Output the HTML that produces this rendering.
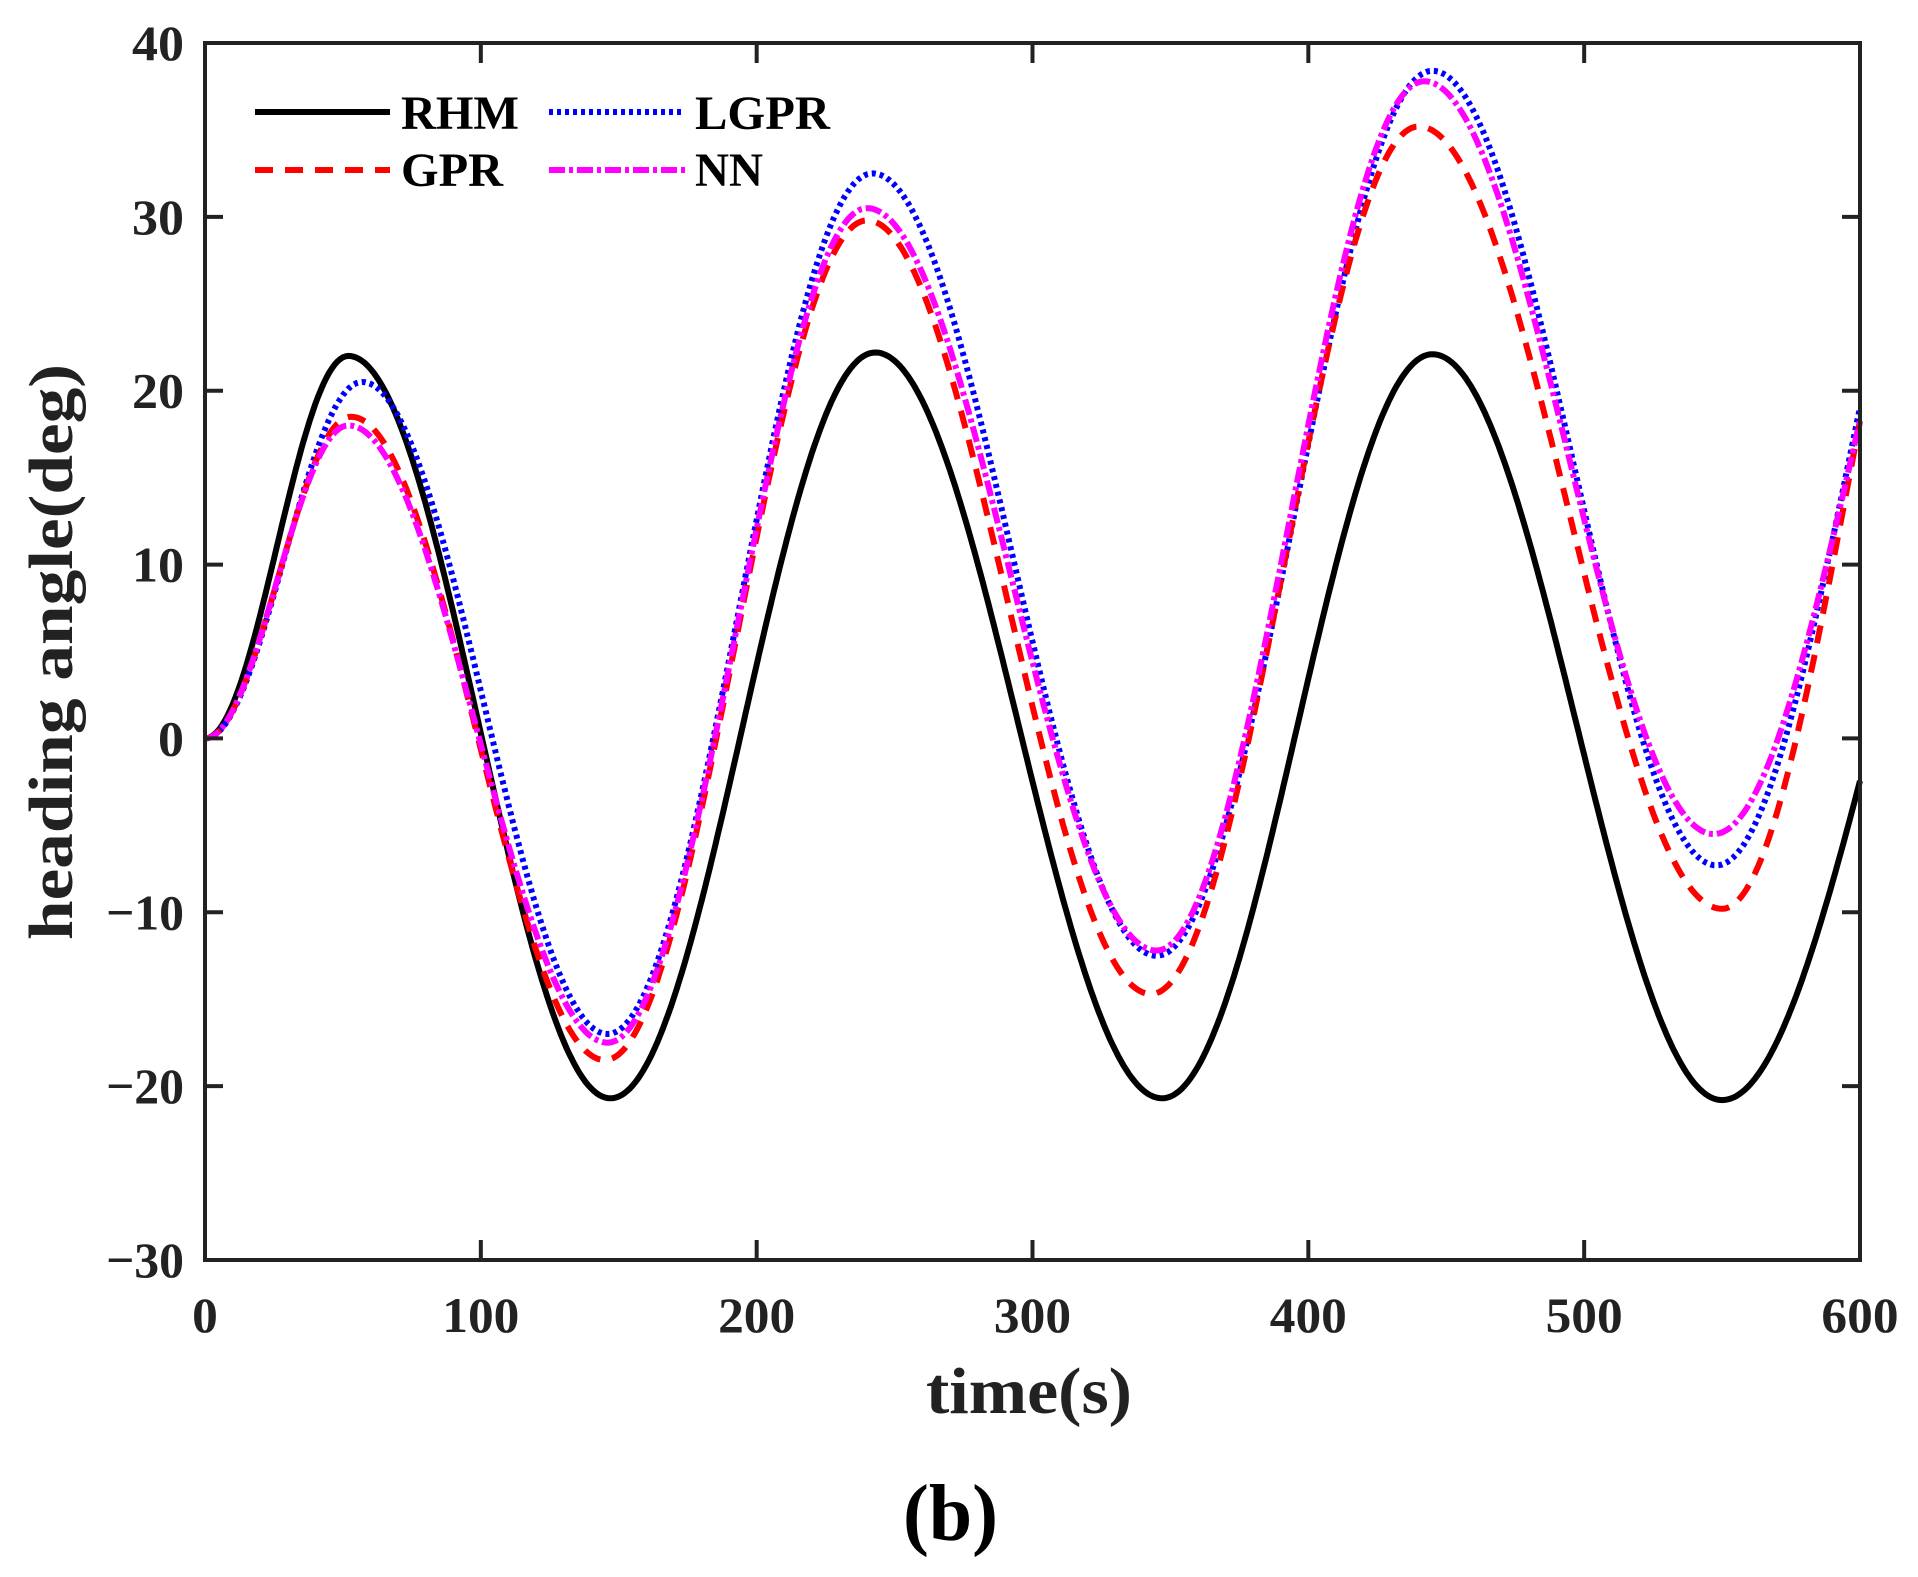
<!DOCTYPE html>
<html><head><meta charset="utf-8"><style>
html,body{margin:0;padding:0;background:#fff}
svg{display:block}
text{font-family:"Liberation Serif","Times New Roman",serif;font-weight:bold;fill:#222}
</style></head><body>
<svg id="s" width="1918" height="1577" viewBox="0 0 1918 1577" xmlns="http://www.w3.org/2000/svg">
<g id="curves"></g>
<rect x="205" y="43" width="1655" height="1217" fill="none" stroke="#222" stroke-width="4"/>
<g id="ticks" stroke="#222" stroke-width="4"></g>
<g id="labels"></g>
<text x="926" y="1413" font-size="66" textLength="206" lengthAdjust="spacingAndGlyphs">time(s)</text>
<text transform="translate(72,652) rotate(-90)" x="-288" y="0" font-size="62" textLength="576" lengthAdjust="spacingAndGlyphs">heading angle(deg)</text>
<text x="903" y="1540" font-size="80" textLength="95" lengthAdjust="spacingAndGlyphs" style="fill:#000">(b)</text>
<g>
<line x1="255" y1="112" x2="390" y2="112" stroke="#000" stroke-width="6"/>
<text x="401" y="129" font-size="48" textLength="118" lengthAdjust="spacingAndGlyphs" style="fill:#000">RHM</text>
<line x1="549" y1="112" x2="685" y2="112" stroke="#00f" stroke-width="6" stroke-dasharray="4,4"/>
<text x="695" y="129" font-size="48" textLength="135" lengthAdjust="spacingAndGlyphs" style="fill:#000">LGPR</text>
<line x1="255" y1="170" x2="390" y2="170" stroke="#f00" stroke-width="6" stroke-dasharray="18,12"/>
<text x="401" y="186" font-size="48" textLength="102" lengthAdjust="spacingAndGlyphs" style="fill:#000">GPR</text>
<line x1="549" y1="170" x2="685" y2="170" stroke="#f0f" stroke-width="6" stroke-dasharray="16,4,4,4"/>
<text x="695" y="186" font-size="48" textLength="68" lengthAdjust="spacingAndGlyphs" style="fill:#000">NN</text>
</g>
</svg>
<script>
var X=function(t){return 205+t*1655/600}, Y=function(v){return 43+(40-v)*1217/70};
var NS="http://www.w3.org/2000/svg";
var tk=document.getElementById('ticks'), lb=document.getElementById('labels');
function el(p,n,a,txt){var e=document.createElementNS(NS,n);for(var k in a)e.setAttribute(k,a[k]);if(txt!=null)e.textContent=txt;p.appendChild(e);return e;}
for(var t=0;t<=600;t+=100){var x=X(t);
 if(t>0&&t<600){el(tk,'line',{x1:x,y1:1260,x2:x,y2:1240});el(tk,'line',{x1:x,y1:43,x2:x,y2:63});}
 var s=String(t), w=s.length*25.7;
 el(lb,'text',{x:x-w/2,y:1332,'font-size':50,textLength:w,lengthAdjust:'spacingAndGlyphs'},s);}
for(var v=-30;v<=40;v+=10){var y=Y(v);
 if(v>-30&&v<40){el(tk,'line',{x1:205,y1:y,x2:223,y2:y});el(tk,'line',{x1:1860,y1:y,x2:1842,y2:y});}
 var s=(v<0?'\u2212'+(-v):String(v)), w=(v<0?26:0)+String(Math.abs(v)).length*26;
 el(lb,'text',{x:184-w,y:y+17,'font-size':50,textLength:w,lengthAdjust:'spacingAndGlyphs'},s);}
function curve(ex){var d='';
 for(var t=0;t<=600;t+=1){var i=0;while(i<ex.length-2&&t>ex[i+1][0])i++;
  var a=ex[i],b=ex[i+1],mid=(a[1]+b[1])/2,amp=(a[1]-b[1])/2;
  var v=mid+amp*Math.cos(Math.PI*(t-a[0])/(b[0]-a[0]));
  d+=(t?' L':'M')+X(t).toFixed(1)+','+Y(v).toFixed(1);}
 return d;}
var g=document.getElementById('curves');
var RHM=[[0,0],[52,22],[147,-20.7],[243,22.2],[347,-20.7],[445,22.1],[550,-20.8],[660,22]];
var GPR=[[0,0],[53,18.5],[145,-18.5],[240,29.8],[343,-14.7],[440,35.2],[550,-9.8],[640,38]];
var LGPR=[[0,0],[57,20.5],[146,-17],[242,32.5],[345,-12.5],[445,38.4],[548,-7.3],[645,40]];
var NN=[[0,0],[52,18],[146,-17.5],[240,30.5],[345,-12.2],[442,37.8],[547,-5.5],[650,40]];
el(g,'path',{d:curve(RHM),fill:'none',stroke:'#000','stroke-width':6});
el(g,'path',{d:curve(LGPR),fill:'none',stroke:'#00f','stroke-width':6,'stroke-dasharray':'4,4'});
el(g,'path',{d:curve(GPR),fill:'none',stroke:'#f00','stroke-width':6,'stroke-dasharray':'18,12'});
el(g,'path',{d:curve(NN),fill:'none',stroke:'#f0f','stroke-width':6,'stroke-dasharray':'16,4,4,4'});
</script>
</body></html>
